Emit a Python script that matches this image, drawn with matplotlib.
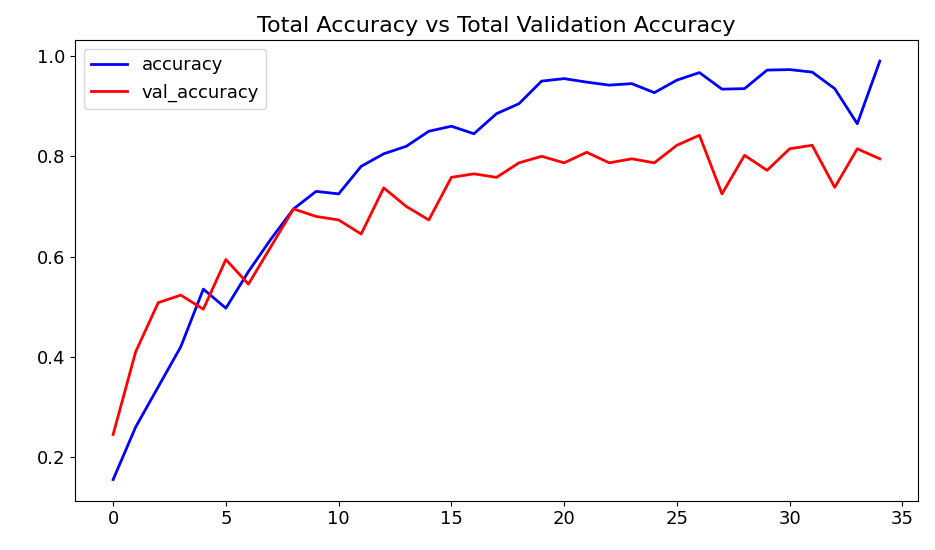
import matplotlib
matplotlib.use("Agg")
import matplotlib.pyplot as plt

epochs = list(range(35))
accuracy = [0.155, 0.26, 0.34, 0.42, 0.535, 0.497, 0.57, 0.635, 0.695, 0.73,
            0.725, 0.78, 0.805, 0.82, 0.85, 0.86, 0.845, 0.885, 0.905, 0.95,
            0.955, 0.948, 0.942, 0.945, 0.927, 0.952, 0.967, 0.934, 0.935, 0.972,
            0.973, 0.968, 0.935, 0.865, 0.99]
val_accuracy = [0.245, 0.41, 0.508, 0.523, 0.495, 0.594, 0.545, 0.62, 0.695, 0.68,
                0.673, 0.645, 0.737, 0.70, 0.673, 0.758, 0.765, 0.758, 0.787, 0.80,
                0.787, 0.808, 0.787, 0.795, 0.787, 0.822, 0.842, 0.725, 0.802, 0.772,
                0.815, 0.822, 0.738, 0.815, 0.795]

fig = plt.figure(figsize=(9.35, 5.5), dpi=100)
ax = fig.add_axes([0.08, 0.09, 0.902, 0.837])
ax.plot(epochs, accuracy, color="blue", label="accuracy", linewidth=2)
ax.plot(epochs, val_accuracy, color="red", label="val_accuracy", linewidth=2)
ax.set_title("Total Accuracy vs Total Validation Accuracy", fontsize=16)
ax.tick_params(labelsize=13)
ax.legend(loc="upper left", fontsize=13)
fig.savefig("out.png")
